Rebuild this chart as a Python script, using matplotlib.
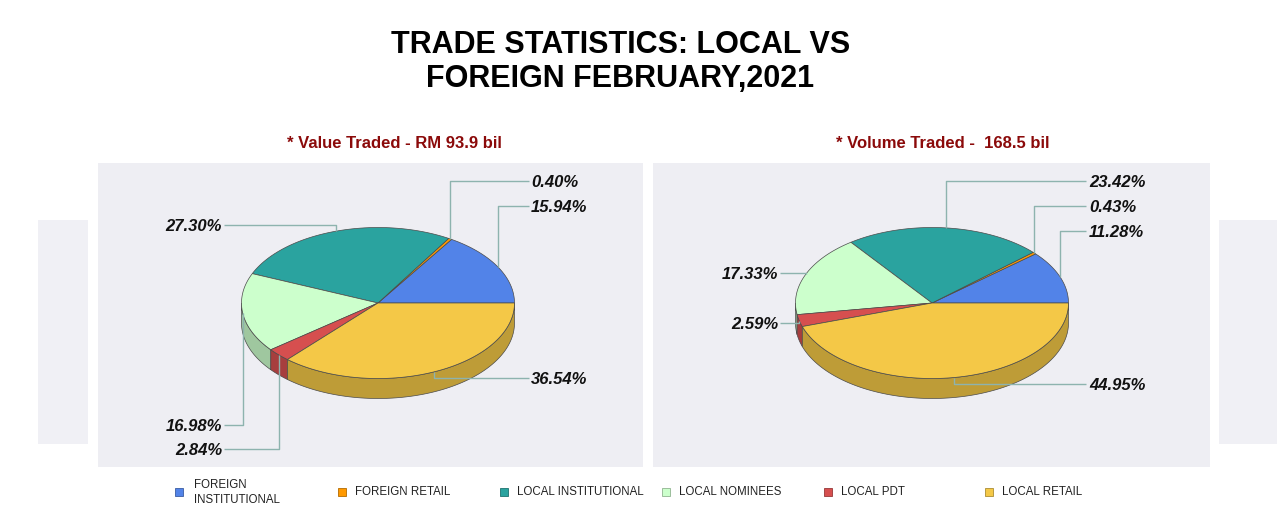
import numpy as np
import matplotlib
matplotlib.use('Agg')
import matplotlib.pyplot as plt
from matplotlib.patches import Polygon, Rectangle
import matplotlib.colors as mcolors

plt.rcParams['font.family'] = ['Liberation Sans', 'DejaVu Sans']

# ---------------- data ----------------
categories = ['FOREIGN\nINSTITUTIONAL', 'FOREIGN RETAIL', 'LOCAL INSTITUTIONAL',
              'LOCAL NOMINEES', 'LOCAL PDT', 'LOCAL RETAIL']
value_traded_pct = [15.94, 0.40, 27.30, 16.98, 2.84, 36.54]
volume_traded_pct = [11.28, 0.43, 23.42, 17.33, 2.59, 44.95]
slice_colors = ['#5283E8', '#FF9900', '#2AA39F', '#CCFFCC', '#D64F4F', '#F4C847']
title_lines = ['TRADE STATISTICS: LOCAL VS', 'FOREIGN FEBRUARY,2021']
subtitles = ['* Value Traded - RM 93.9 bil', '* Volume Traded -  168.5 bil']

# ---------------- layout (pixel coordinates) ----------------
W, H = 1285, 525
pie_centers = [(378, 303), (932, 303)]
RX, RY, DEPTH = 136.5, 75.5, 20
# label rows (y) and side for each slice
label_rows = [[206, 181, 225, 425, 449, 378],
              [231, 206, 181, 273, 323, 384]]
label_sides = [['R', 'R', 'L', 'L', 'L', 'R'],
               ['R', 'R', 'R', 'L', 'L', 'R']]
# (right line end, right text start, left line start, left text end)
label_x = [(529, 531, 224, 222), (1086, 1089, 780, 778)]
panels = [(98, 163, 545, 304), (653, 163, 557, 304)]
strips = [(38, 220, 50, 224), (1219, 220, 58, 224)]
subtitle_x = [394.5, 942.5]

fig = plt.figure(figsize=(W / 100, H / 100), dpi=100)
ax = fig.add_axes([0, 0, 1, 1])
ax.set_xlim(0, W)
ax.set_ylim(H, 0)
ax.axis('off')

for (x, y, w, h) in strips:
    ax.add_patch(Rectangle((x, y), w, h, facecolor='#F0F0F5', edgecolor='none', zorder=0))
for (x, y, w, h) in panels:
    ax.add_patch(Rectangle((x, y), w, h, facecolor='#EEEEF3', edgecolor='none', zorder=0.5))


def darker(c, f=0.78):
    r, g, b = mcolors.to_rgb(c)
    return (r * f, g * f, b * f)


def ell(cx, cy, t, dy=0):
    return np.column_stack([cx + RX * np.cos(t), cy - RY * np.sin(t) + dy])


def draw_pie3d(cx, cy, values, rows, sides, lx):
    vals = np.array(values, dtype=float)
    cum = np.concatenate([[0], np.cumsum(vals)]) / vals.sum() * 2 * np.pi
    # side walls
    for i in range(len(vals)):
        a = max(cum[i], np.pi)
        b = min(cum[i + 1], 2 * np.pi)
        if b > a:
            t = np.linspace(a, b, 100)
            top = ell(cx, cy, t)
            bot = ell(cx, cy, t[::-1], DEPTH)
            ax.add_patch(Polygon(np.vstack([top, bot]), closed=True,
                                 facecolor=darker(slice_colors[i]),
                                 edgecolor='#4a4a4a', lw=0.5, zorder=2))
    # top faces
    for i in range(len(vals)):
        t = np.linspace(cum[i], cum[i + 1], max(3, int(200 * vals[i] / vals.sum()) + 3))
        pts = np.vstack([[cx, cy], ell(cx, cy, t)])
        ax.add_patch(Polygon(pts, closed=True, facecolor=slice_colors[i],
                             edgecolor='#4a4a4a', lw=0.5, zorder=3))
    # leader lines + labels
    r_line, r_text, l_line, l_text = lx
    for i in range(len(vals)):
        mid = (cum[i] + cum[i + 1]) / 2
        ax_, ay_ = ell(cx, cy, np.array([mid]))[0]
        y = rows[i]
        if sides[i] == 'R':
            xs = [ax_, ax_, r_line]
            tx, ha = r_text, 'left'
        else:
            xs = [ax_, ax_, l_line]
            tx, ha = l_text, 'right'
        ax.plot(xs, [ay_, y, y], color='#8DB3AE', lw=1, zorder=4,
                solid_capstyle='butt')
        ax.text(tx, y + 6, f'{values[i]:.2f}%', ha=ha, va='baseline',
                fontsize=12, fontweight='bold', fontstyle='italic',
                color='#111111', zorder=5)


for k, vals in enumerate([value_traded_pct, volume_traded_pct]):
    cx, cy = pie_centers[k]
    draw_pie3d(cx, cy, vals, label_rows[k], label_sides[k], label_x[k])
    ax.text(subtitle_x[k], 148, subtitles[k], ha='center', va='baseline',
            fontsize=12, fontweight='bold', color='#8B0A0A')

# title
ax.text(620.5, 53.3, title_lines[0], ha='center', va='baseline',
        fontsize=22, fontweight='bold', color='black')
ax.text(620, 86.7, title_lines[1], ha='center', va='baseline',
        fontsize=22, fontweight='bold', color='black')

# legend
legend_marker_x = [175, 338, 500, 662, 824, 985]
for i, name in enumerate(categories):
    mx = legend_marker_x[i]
    ax.add_patch(Rectangle((mx, 487.5), 8, 8, facecolor=slice_colors[i],
                           edgecolor=darker(slice_colors[i], 0.7), lw=0.6, zorder=3))
    if '\n' in name:
        l1, l2 = name.split('\n')
        ax.text(mx + 19, 488.3, l1, ha='left', va='baseline', fontsize=8.3, color='#222222')
        ax.text(mx + 19, 503.3, l2, ha='left', va='baseline', fontsize=8.3, color='#222222')
    else:
        ax.text(mx + 17, 495, name, ha='left', va='baseline', fontsize=8.3, color='#222222')

fig.savefig('out.png', dpi=100)
